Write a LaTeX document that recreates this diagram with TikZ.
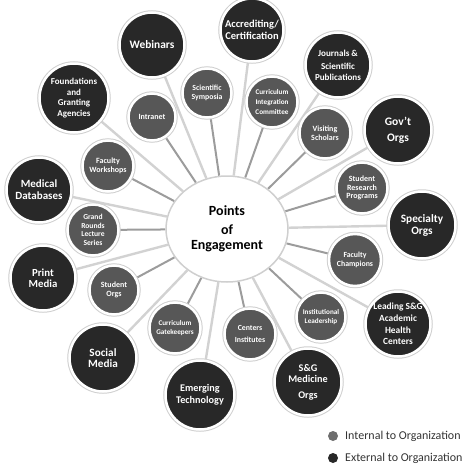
\documentclass[tikz,border=0pt]{standalone}
\usepackage{fontspec}
\setmainfont{Carlito}
\usetikzlibrary{shapes.geometric,backgrounds}
\definecolor{extc}{HTML}{282828}
\definecolor{intc}{HTML}{575757}
\definecolor{legint}{HTML}{6E6E6E}
\definecolor{leglabel}{HTML}{333333}
\definecolor{outline}{HTML}{CFCFCF}
\definecolor{outl}{HTML}{D2D2D2}
\definecolor{inl}{HTML}{9C9C9C}
\newcommand{\fs}[2]{\fontsize{#1}{#2}\selectfont\bfseries}
\tikzset{
  bub/.style={circle, draw=white, line width=2.5pt, inner sep=0pt, align=center,
    text=white, preaction={draw=outline, line width=4.5pt}},
  ext/.style={bub, fill=extc, minimum size=2*(#1-1.5)},
  int/.style={bub, fill=intc, minimum size=2*(#1-1.5)},
  outlink/.style={draw=outl, line width=2.4pt},
  inlink/.style={draw=inl, line width=2pt},
  legdot/.style={circle, inner sep=0pt, minimum size=10pt},
  legtext/.style={anchor=west, text=leglabel, font=\fontsize{12}{14}\selectfont, inner sep=0pt}
}
\begin{document}
\begin{tikzpicture}[x=1pt,y=-1pt]
\useasboundingbox (0,0) rectangle (474,474);
% centre
\node[ellipse, fill=white, draw=outline, line width=1.5pt, minimum width=122pt, minimum height=106pt,
      align=center, font=\fs{14}{15}] (poe) at (227,229) {Points\\[4pt]of\\Engagement};
% external
\node[ext=34, font=\fs{11.4}{14}] (web) at (152,45) {Webinars};
\node[ext=33, font=\fs{10.5}{12.5}] (acc) at (252,30) {Accrediting/\\Certification};
\node[ext=34, font=\fs{9.1}{10.5}] (jour) at (338,65) {Journals \&\\[3pt]Scientific\\Publications};
\node[ext=35, font=\fs{11.5}{16}] (gov) at (398,130) {Gov't\\Orgs};
\node[ext=35, font=\fs{11.3}{12}] (spec) at (422,225) {Specialty\\Orgs};
\node[ext=34, font=\fs{9.4}{11.8}] (lead) at (398,324) {Leading S\&G\\Academic\\Health\\Centers};
\node[ext=35, font=\fs{10.2}{11.5}] (sgm) at (308,382) {S\&G\\Medicine\\[4pt]Orgs};
\node[ext=36, font=\fs{10.2}{11.5}] (emer) at (200,395) {Emerging\\Technology};
\node[ext=35, font=\fs{11.2}{11.5}] (soc) at (103,358) {Social\\Media};
\node[ext=34, font=\fs{10.8}{11.5}] (print) at (43,278) {Print\\Media};
\node[ext=34, font=\fs{11}{12}] (med) at (39,190) {Medical\\Databases};
\node[ext=36, font=\fs{9}{10.7}] (found) at (74,98) {Foundations\\and\\Granting\\Agencies};
% internal
\node[int=25, font=\fs{8}{9}] (intr) at (152,117) {Intranet};
\node[int=26, font=\fs{7.8}{9}] (symp) at (207,93) {Scientific\\Symposia};
\node[int=27, font=\fs{7.2}{10}] (cic) at (272,102) {Curriculum\\Integration\\Committee};
\node[int=27, font=\fs{8}{8.5}] (vis) at (325,133) {Visiting\\Scholars};
\node[int=27, font=\fs{8}{8.7}] (srp) at (362,188) {Student\\Research\\Programs};
\node[int=27.5, font=\fs{7.8}{8.3}] (fch) at (355,260) {Faculty\\Champions};
\node[int=26, font=\fs{7.2}{8.3}] (inst) at (321,317) {Institutional\\Leadership};
\node[int=27, font=\fs{7.8}{12}] (cent) at (250,334) {Centers\\Institutes};
\node[int=27, font=\fs{7.2}{8.3}] (gate) at (175,328) {Curriculum\\Gatekeepers};
\node[int=26, font=\fs{8}{9}] (sorg) at (114,290) {Student\\Orgs};
\node[int=27, font=\fs{7.6}{8.7}] (grand) at (93,230) {Grand\\Rounds\\Lecture\\Series};
\node[int=27, font=\fs{8}{8.5}] (fws) at (108,166) {Faculty\\Workshops};
% connectors
\begin{scope}[on background layer]
\foreach \n in {web,acc,jour,gov,spec,lead,sgm,emer,soc,print,med,found}
  \draw[outlink] (poe) -- (\n);
\foreach \n in {intr,symp,cic,vis,srp,fch,inst,cent,gate,sorg,grand,fws}
  \draw[inlink] (poe) -- (\n);
\end{scope}
% legend
\node[legdot, fill=legint] (li) at (333,436) {};
\node[legtext] (lit) at (345,436) {Internal to Organization};
\node[legdot, fill=extc] (le) at (333,458) {};
\node[legtext] (let) at (345,458) {External to Organization};
\end{tikzpicture}
\end{document}
